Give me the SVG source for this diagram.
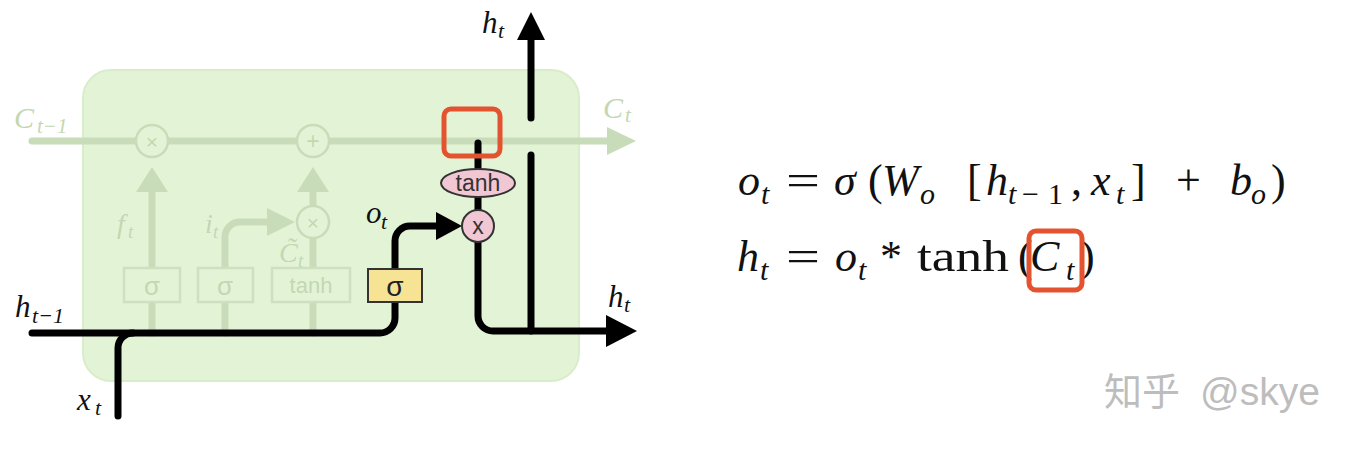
<svg xmlns="http://www.w3.org/2000/svg" width="1354" height="450" viewBox="0 0 1354 450">
<defs>
<style>
.fl{stroke:#c9dcb9;stroke-width:7;fill:none;stroke-linecap:round;stroke-linejoin:round}
.fh{fill:#c9dcb9}
.fc{fill:#e3f4d6;stroke:#c9dcb9;stroke-width:2.5}
.fb{fill:#e3f4d6;stroke:#cfe0c1;stroke-width:2.5}
.ft{fill:#c3d7b3}
.bl{stroke:#000;stroke-width:7;fill:none;stroke-linecap:round;stroke-linejoin:round}
.m{font-family:"Liberation Serif",serif;font-style:italic}
.r{font-family:"Liberation Serif",serif;font-style:normal}
.s{font-family:"Liberation Sans",sans-serif}
.red{fill:none;stroke:#e4532f;stroke-width:5}
.eq{font-size:44px;fill:#111}
.sb{font-size:30px;fill:#111}
.lb{font-size:31px;fill:#111}
.ls{font-size:22px;fill:#111}
</style>
</defs>
<rect width="1354" height="450" fill="#fff"/>

<g id="cell">
<rect x="83" y="70" width="496" height="311" rx="28" fill="#e3f4d6" stroke="#d9edcb" stroke-width="2"/>
</g>

<g id="faded">
<path class="fl" d="M32,141 H610"/>
<polygon class="fh" points="607,127 636,141 607,155"/>
<path class="fl" d="M152,268 V192 M225,268 V237 A15,15 0 0 1 240,222 H268 M313,268 V238 M313,206 V192 M152,302 V333 M225,302 V333 M313,302 V333"/>
<polygon class="fh" points="136,192 152,167 168,192"/>
<polygon class="fh" points="267,208 295,222 267,236"/>
<polygon class="fh" points="297,192 313,167 329,192"/>
<g id="fmul1"><circle class="fc" cx="152" cy="141" r="16"/><text class="s ft" x="152" y="149" font-size="21" text-anchor="middle">×</text></g>
<g id="fadd"><circle class="fc" cx="313" cy="141" r="16"/><text class="s ft" x="313" y="149" font-size="23" text-anchor="middle">+</text></g>
<g id="fmul2"><circle class="fc" cx="313" cy="222" r="16"/><text class="s ft" x="313" y="230" font-size="21" text-anchor="middle">×</text></g>
<g id="fsig1"><rect class="fb" x="124" y="268" width="56" height="34"/><text class="s ft" x="152" y="295" font-size="26" text-anchor="middle">σ</text></g>
<g id="fsig2"><rect class="fb" x="198" y="268" width="55" height="34"/><text class="s ft" x="225" y="295" font-size="26" text-anchor="middle">σ</text></g>
<g id="ftanh"><rect class="fb" x="272" y="268" width="78" height="34"/><text class="s ft" x="311" y="293" font-size="22" text-anchor="middle">tanh</text></g>
<text class="m ft" x="14" y="128" font-size="30">C</text><text class="m ft" x="37" y="133" font-size="21">t−1</text>
<text class="m ft" x="603" y="118" font-size="30">C</text><text class="m ft" x="625" y="122" font-size="21">t</text>
<text class="m ft" x="117" y="233" font-size="28">f</text><text class="m ft" x="128" y="238" font-size="19">t</text>
<text class="m ft" x="205" y="233" font-size="28">i</text><text class="m ft" x="213" y="238" font-size="19">t</text>
<text class="m ft" x="279" y="262" font-size="28">C̃</text><text class="m ft" x="298" y="267" font-size="19">t</text>
</g>

<g id="connectors">
<path class="bl" d="M32,333 H380 A15,15 0 0 0 395,318 V302"/>
<path class="bl" d="M118,416 V348 A15,15 0 0 1 133,333"/>
<path class="bl" d="M395,269 V241 A15,15 0 0 1 410,226 H438"/>
<polygon points="436,212 462,226 436,240" fill="#000"/>
<path class="bl" d="M478,242 V316 A15,15 0 0 0 493,331 H608"/>
<polygon points="606,315 637,331 606,347" fill="#000"/>
<path class="bl" d="M531,331 V155 M531,118 V38"/>
<polygon points="517,40 531,12 545,40" fill="#000"/>
<path class="bl" d="M478,210 V197 M478,169 V143" stroke-width="6"/>
</g>

<g id="sigma_o">
<rect x="368" y="269" width="54" height="33" fill="#f6e394" stroke="#333" stroke-width="2"/>
<text class="s" x="395" y="296" font-size="28" text-anchor="middle" fill="#222">σ</text>
</g>
<g id="mul_o">
<circle cx="478" cy="226" r="16" fill="#f2c7d4" stroke="#333" stroke-width="2"/>
<text class="s" x="478" y="234" font-size="23" text-anchor="middle" fill="#333">x</text>
</g>
<g id="tanh_o">
<ellipse cx="478" cy="183" rx="37" ry="14" fill="#f2c7d4" stroke="#333" stroke-width="2"/>
<text class="s" x="478" y="191" font-size="23" text-anchor="middle" fill="#333">tanh</text>
</g>
<g id="highlight1"><rect class="red" x="444" y="109" width="56" height="47" rx="7"/></g>

<g id="labels">
<text class="m lb" x="482" y="33">h</text><text class="m ls" x="498" y="38">t</text>
<text class="m lb" x="608" y="307">h</text><text class="m ls" x="624" y="312">t</text>
<text class="m lb" x="366" y="223">o</text><text class="m ls" x="381" y="229">t</text>
<text class="m lb" x="15" y="317">h</text><text class="m ls" x="32" y="323">t−1</text>
<text class="m lb" x="77" y="410">x</text><text class="m ls" x="95" y="415">t</text>
</g>

<g id="equation1">
<text class="m eq" x="738" y="195">o</text><text class="m sb" x="761" y="204">t</text>
<text class="r eq" x="786" y="195" textLength="34" lengthAdjust="spacingAndGlyphs">=</text>
<text class="m eq" x="834" y="195">σ</text>
<text class="r eq" x="868" y="195">(</text>
<text class="m eq" x="882" y="195">W</text><text class="m sb" x="920" y="204">o</text>
<text class="r eq" x="967" y="195">[</text>
<text class="m eq" x="986" y="195">h</text><text class="m sb" x="1008" y="204">t<tspan class="r" x="1022">−</tspan><tspan class="r" x="1048">1</tspan></text>
<text class="r eq" x="1071" y="195">,</text>
<text class="m eq" x="1091" y="195">x</text><text class="m sb" x="1116" y="204">t</text>
<text class="r eq" x="1131" y="195">]</text>
<text class="r eq" x="1176" y="195">+</text>
<text class="m eq" x="1230" y="195">b</text><text class="m sb" x="1251" y="204">o</text>
<text class="r eq" x="1271" y="195">)</text>
</g>
<g id="equation2">
<text class="m eq" x="737" y="271">h</text><text class="m sb" x="760" y="280">t</text>
<text class="r eq" x="786" y="271" textLength="34" lengthAdjust="spacingAndGlyphs">=</text>
<text class="m eq" x="835" y="271">o</text><text class="m sb" x="858" y="280">t</text>
<text class="r eq" x="880" y="271">*</text>
<text class="r eq" x="917" y="271" textLength="92" lengthAdjust="spacingAndGlyphs">tanh</text>
<text class="r eq" x="1018" y="271">(</text>
<text class="m eq" x="1030" y="271">C</text><text class="m sb" x="1066" y="280">t</text>
<text class="r eq" x="1080" y="271">)</text>
<rect class="red" x="1029" y="231" width="53" height="59" rx="7"/>
</g>

<g id="watermark">
<text x="1104" y="405" font-family="'Noto Sans CJK SC',sans-serif" font-size="38" fill="#bdbdbd">知乎</text>
<text x="1200" y="405" font-family="'Liberation Sans',sans-serif" font-size="38" fill="#bdbdbd" textLength="120" lengthAdjust="spacingAndGlyphs">@skye</text>
</g>
</svg>
